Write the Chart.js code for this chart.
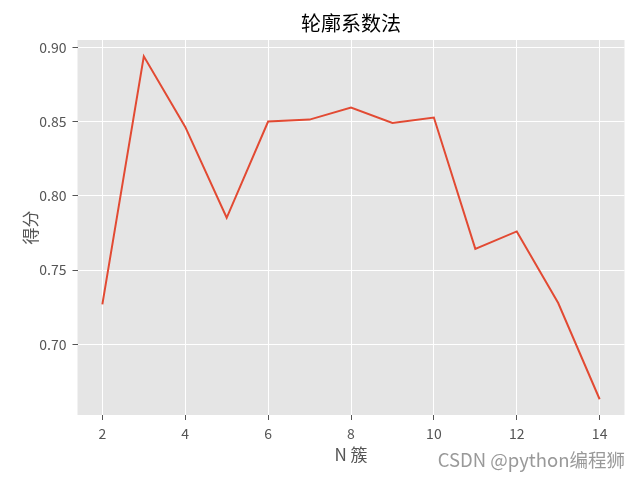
<!DOCTYPE html>
<html>
<head>
<meta charset="utf-8">
<script src="https://cdn.jsdelivr.net/npm/chart.js@4"></script>
<style>
  html, body { margin: 0; padding: 0; background: #fff; }
  #wrap { width: 640px; height: 480px; }
</style>
</head>
<body>
<div id="wrap"><canvas id="myChart" width="640" height="480"></canvas></div>
<script>
// cluster counts and silhouette scores
const clusterCounts = [2, 3, 4, 5, 6, 7, 8, 9, 10, 11, 12, 13, 14];
const scores = [0.7269, 0.8939, 0.8464, 0.7852, 0.8500, 0.8513, 0.8594, 0.8491, 0.8527, 0.7643, 0.7760, 0.7278, 0.6630];
const xTicks = [2, 4, 6, 8, 10, 12, 14];
const yTicks = [0.70, 0.75, 0.80, 0.85, 0.90];

const FONT = "'Noto Sans CJK SC', 'DejaVu Sans', sans-serif";

// grey panel behind the plot, ggplot style
const panelBg = {
    id: 'panelBg',
    beforeDraw(chart) {
        const {ctx, chartArea} = chart;
        ctx.save();
        ctx.fillStyle = '#E5E5E5';
        ctx.fillRect(chartArea.left, chartArea.top, chartArea.right - chartArea.left, chartArea.bottom - chartArea.top);
        ctx.restore();
    }
};

// watermark in the bottom right corner
const watermark = {
    id: 'watermark',
    afterDraw(chart) {
        const ctx = chart.ctx;
        ctx.save();
        ctx.font = '18.5px ' + FONT;
        ctx.textAlign = 'right';
        ctx.textBaseline = 'middle';
        ctx.fillStyle = 'rgba(255,255,255,0.9)';
        ctx.fillText('CSDN @python编程狮', 626, 461);
        ctx.fillStyle = 'rgba(135,135,135,0.85)';
        ctx.fillText('CSDN @python编程狮', 625, 460);
        ctx.restore();
    }
};

const data = {
    datasets: [{
        label: '得分',
        data: clusterCounts.map((n, i) => ({x: n, y: scores[i]})),
        borderColor: '#E24A33',
        borderWidth: 2,
        pointRadius: 0,
        tension: 0,
        fill: false
    }]
};

const myChart = new Chart(document.getElementById('myChart'), {
    type: 'line',
    data: data,
    plugins: [panelBg, watermark],
    options: {
        responsive: false,
        animation: false,
        layout: {padding: {left: 0, right: 15.5, top: 0, bottom: 0}},
        plugins: {
            legend: {display: false},
            tooltip: {enabled: false},
            title: {
                display: true,
                fullSize: false,
                text: '轮廓系数法',
                color: '#000',
                font: {family: FONT, size: 20, weight: 'normal'},
                padding: {top: 11, bottom: 5}
            }
        },
        scales: {
            x: {
                type: 'linear',
                min: 1.4,
                max: 14.6,
                afterBuildTicks: (scale) => { scale.ticks = xTicks.map(v => ({value: v})); },
                afterFit: (scale) => { scale.height = 65; },
                ticks: {
                    color: '#555',
                    padding: 5,
                    font: {family: FONT, size: 14},
                    callback: (v) => String(v)
                },
                grid: {color: '#fff', lineWidth: 1, tickColor: '#555', tickLength: 5},
                border: {display: false},
                title: {
                    display: true,
                    text: 'N 簇',
                    color: '#555',
                    font: {family: FONT, size: 17},
                    padding: {top: 0, bottom: 15}
                }
            },
            y: {
                type: 'linear',
                min: 0.6524,
                max: 0.9049,
                afterBuildTicks: (scale) => { scale.ticks = yTicks.map(v => ({value: v})); },
                afterFit: (scale) => { scale.width = 77.5; },
                ticks: {
                    color: '#555',
                    padding: 6,
                    font: {family: FONT, size: 14},
                    callback: (v) => Number(v).toFixed(2)
                },
                grid: {color: '#fff', lineWidth: 1, tickColor: '#555', tickLength: 5},
                border: {display: false},
                title: {
                    display: true,
                    text: '得分',
                    color: '#555',
                    font: {family: FONT, size: 17},
                    padding: {top: 20, bottom: 0}
                }
            }
        }
    }
});
</script>
</body>
</html>
